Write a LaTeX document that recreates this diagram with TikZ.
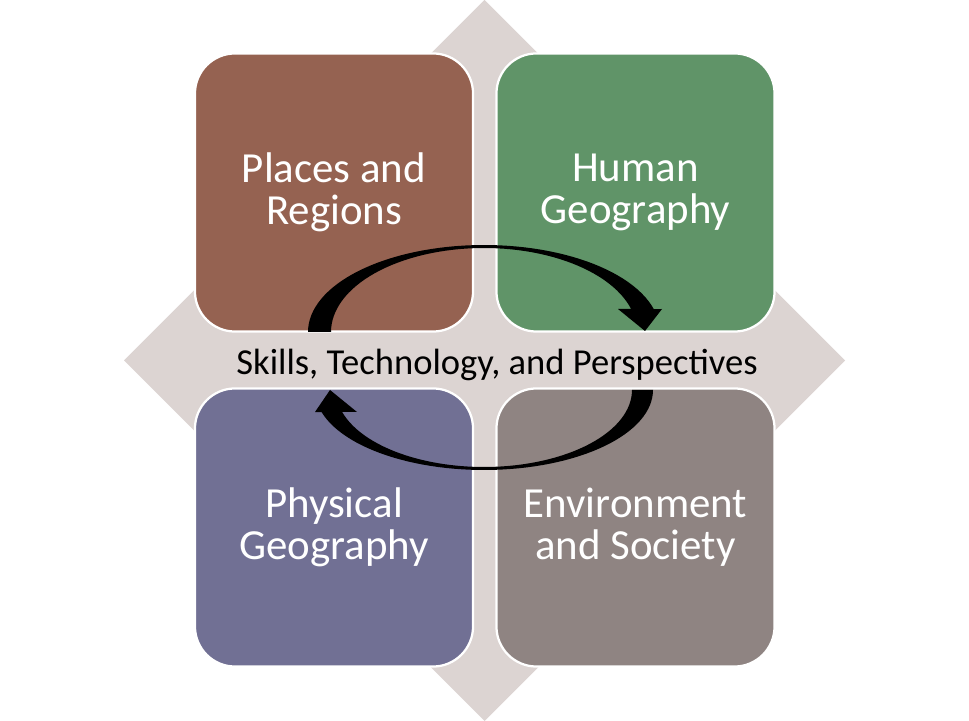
\documentclass[tikz,border=0pt]{standalone}
\usepackage{fontspec}
\setmainfont{Carlito}
\usepackage{tikz}
\usetikzlibrary{positioning}

\definecolor{diamondfill}{RGB}{220,212,210}
\definecolor{placesfill}{RGB}{149,98,81}
\definecolor{humanfill}{RGB}{96,148,104}
\definecolor{physicalfill}{RGB}{113,112,148}
\definecolor{environmentfill}{RGB}{143,132,130}

\tikzset{
    topicbox/.style={draw=white, line width=1.6pt, rounded corners=1cm,
        minimum width=6.95cm, minimum height=6.95cm, text=white, align=center,
        font=\fontsize{30.5}{30}\selectfont},
    cyclearrow/.style={fill=black, draw=none}
}

\begin{document}
\begin{tikzpicture}[x=0.025cm, y=-0.025cm]
    \useasboundingbox (0,0) rectangle (969,721);

    % Background diamond
    \fill[diamondfill] (484.5,0) -- (845,360.5) -- (484.5,721) -- (124,360.5) -- cycle;

    % Places and Regions
    \node[topicbox, fill=placesfill] (places) at (334,192.5) {Places and\\Regions};

    % Human Geography
    \node[topicbox, fill=humanfill] (human) at (635.5,192.5) {Human\\Geography};

    % Physical Geography
    \node[topicbox, fill=physicalfill] (physical) at (334,527.5) {Physical\\Geography};

    % Environment and Society
    \node[topicbox, fill=environmentfill] (environment) at (635.5,527.5) {Environment\\and Society};

    % Upper arrow, left to right
    \fill[cyclearrow] plot[domain=180:15.3, samples=60] ({484+176*cos(\x)},{332-87*sin(\x)})
        -- (662,309) -- (645,331) -- (618,309)
        -- plot[domain=15.9:180, samples=60] ({484+153*cos(\x)},{332-84*sin(\x)}) -- cycle;

    % Lower arrow, right to left
    \fill[cyclearrow] plot[domain=0:164, samples=60] ({484+169*cos(\x)},{390+80*sin(\x)})
        -- (315,412) -- (330,390) -- (357,412)
        -- plot[domain=163.4:0, samples=60] ({484+148*cos(\x)},{390+77*sin(\x)}) -- cycle;

    % Centre label
    \node[font=\fontsize{26}{30}\selectfont] (skills) at (497,365) {Skills, Technology, and Perspectives};
\end{tikzpicture}
\end{document}
